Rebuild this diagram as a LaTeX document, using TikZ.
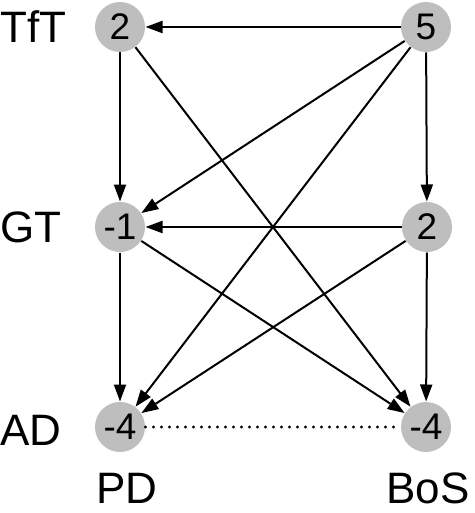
\documentclass[tikz,border=0pt]{standalone}
\usepackage{fontspec}
\setmainfont{Liberation Sans}
\usetikzlibrary{arrows.meta}
\definecolor{nodegray}{RGB}{190,190,190}
\begin{document}
\begin{tikzpicture}[x=1pt,y=-1pt,
  val/.style={circle,fill=nodegray,minimum size=50pt,inner sep=0pt,outer sep=0.5pt,font=\fontsize{37}{37}\selectfont},
  lab/.style={inner sep=0pt,text depth=0pt,font=\fontsize{44}{44}\selectfont},
  edge/.style={line width=2pt,-{Triangle[length=17pt,width=12pt]}},
  tie/.style={line width=3.4pt,line cap=round,dash pattern=on 0pt off 8pt}
]
\useasboundingbox (0,0) rectangle (474,513);
\node[val] (t1) at (120,27) {2};
\node[val] (t2) at (426,27) {5};
\node[val] (g1) at (120,227) {-1};
\node[val] (g2) at (427,227) {2};
\node[val] (a1) at (120,427) {-4};
\node[val] (a2) at (426,427) {-4};
\node[lab,anchor=base west] (lt) at (0,43) {TfT};
\node[lab,anchor=base west] (lg) at (0,242) {GT};
\node[lab,anchor=base west] (la) at (0,445) {AD};
\node[lab,anchor=base] (lpd) at (127,503) {PD};
\node[lab,anchor=base] (lbos) at (428,503) {BoS};
\draw[edge] (t2) -- (t1);
\draw[edge] (t1) -- (g1);
\draw[edge] (t1) -- (a2);
\draw[edge] (t2) -- (g1);
\draw[edge] (t2) -- (a1);
\draw[edge] (t2) -- (g2);
\draw[edge] (g2) -- (g1);
\draw[edge] (g2) -- (a1);
\draw[edge] (g2) -- (a2);
\draw[edge] (g1) -- (a1);
\draw[edge] (g1) -- (a2);
\draw[tie] (a1) -- (a2);
\end{tikzpicture}
\end{document}
